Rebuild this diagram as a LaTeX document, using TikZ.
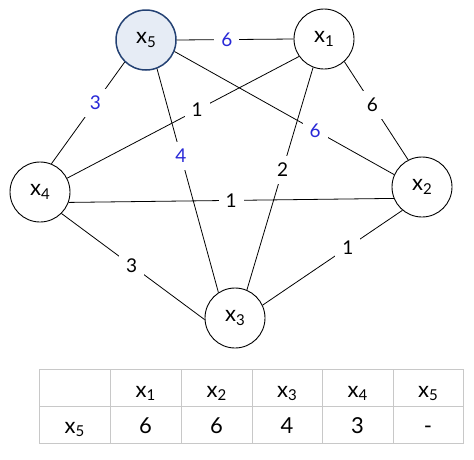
\documentclass[tikz,border=0pt]{standalone}
\usepackage{fontspec}
\setmainfont{Lato}

\definecolor{kek}{RGB}{40,40,215}
\definecolor{kitoltes}{RGB}{230,236,245}
\definecolor{keret}{RGB}{35,65,115}
\definecolor{racs}{RGB}{200,200,200}

\newcommand{\xsub}[1]{x\raisebox{-0.35ex}{\fontsize{15}{15}\selectfont #1}}

\begin{document}
\begin{tikzpicture}[x=1pt,y=-1pt,
		csucs/.style={circle,draw,line width=0.9pt,minimum size=60pt,inner sep=0pt,font=\fontsize{22}{22}\selectfont},
		kezdo/.style={csucs,fill=kitoltes,draw=keret,line width=1.5pt},
		el/.style={line width=0.8pt},
		suly/.style={fill=white,inner sep=7pt,font=\fontsize{19}{19}\selectfont},
		kiemelt/.style={suly,text=kek},
		tabla/.style={draw=racs,line width=0.9pt},
		cella/.style={anchor=base,font=\fontsize{22}{22}\selectfont}]
				\useasboundingbox (0,0) rectangle (474,459);
				
				% csúcsok
				\node[kezdo] (x5) at (146,40) {\xsub{5}};
				\node[csucs] (x1) at (324,39) {\xsub{1}};
				\node[csucs] (x4) at (40,192) {\xsub{4}};
				\node[csucs] (x2) at (422,187) {\xsub{2}};
				\node[csucs] (x3) at (235,318) {\xsub{3}};
				
				% élek x5-ből
				\draw[el] (x5.0) -- node[kiemelt,pos=0.43] {6} (x1.180);
				\draw[el] (x5.226) -- node[kiemelt,pos=0.4] {3} (x4.68);
				\draw[el] (x5.291) -- node[kiemelt,pos=0.39] {4} (x3.123);
				\draw[el] (x5.338) -- node[kiemelt,pos=0.64] {6} (x2.156);
				
				% többi él
				\draw[el] (x1.215) -- node[suly,pos=0.44] {1} (x4.27);
				\draw[el] (x1.249) -- node[suly,pos=0.46] {2} (x3.67);
				\draw[el] (x1.312) -- node[suly,pos=0.44] {6} (x2.117);
				\draw[el] (x4.-20) -- node[suly,pos=0.5] {1} (x2.202);
				\draw[el] (x4.-45) -- node[suly,pos=0.49] {3} (x3.183);
				\draw[el] (x2.230) -- node[suly,pos=0.39] {1} (x3.25);
				
				% táblázat
				\draw[tabla] (39,369) rectangle (463,443);
				\draw[tabla] (39,406) -- (463,406);
				\foreach \x in {110,181,252,322,393}
					\draw[tabla] (\x,369) -- (\x,443);
				
				% fejléc
				\node[cella] (f1) at (145.5,397) {\xsub{1}};
				\node[cella] (f2) at (216.5,397) {\xsub{2}};
				\node[cella] (f3) at (287,397) {\xsub{3}};
				\node[cella] (f4) at (357.5,397) {\xsub{4}};
				\node[cella] (f5) at (428,397) {\xsub{5}};
				
				% sor
				\node[cella] (s0) at (74.5,433) {\xsub{5}};
				\node[cella] (s1) at (145.5,433) {6};
				\node[cella] (s2) at (216.5,433) {6};
				\node[cella] (s3) at (287,433) {4};
				\node[cella] (s4) at (357.5,433) {3};
				\node[cella] (s5) at (428,433) {-};
				
			\end{tikzpicture}
\end{document}
